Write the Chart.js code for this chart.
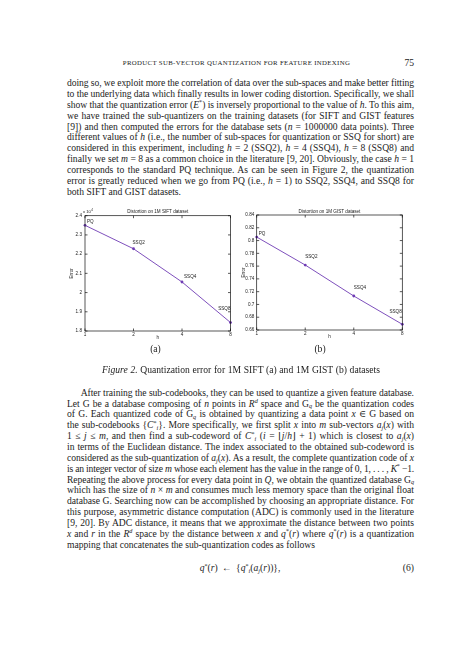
<!DOCTYPE html>
<html><head><meta charset="utf-8">
<script src="https://cdn.jsdelivr.net/npm/chart.js@4.4.1/dist/chart.umd.min.js"></script>
<style>
html,body{margin:0;padding:0;background:#fff;}
#page{position:relative;width:474px;height:670px;overflow:hidden;font-family:"Liberation Serif","DejaVu Serif",serif;color:#1c1c1c;}
.ln{position:absolute;white-space:nowrap;font-size:9.6px;line-height:12px;height:12px;}
sup,sub{font-size:6.2px;line-height:0;position:relative;vertical-align:baseline;}
sup{top:-3.5px;} sub{top:1.9px;}
canvas{position:absolute;}
</style></head>
<body><div id="page">
<canvas id="chartA" width="180" height="146" style="left:60px;top:200px;width:180px;height:146px"></canvas>
<canvas id="chartB" width="180" height="145" style="left:232px;top:200px;width:180px;height:145px"></canvas>
</div>
<script>
// ---- chart data ----
const hLabels = ['1', '2', '4', '8'];
const pointNames = ['PQ', 'SSQ2', 'SSQ4', 'SSQ8'];
const siftError = [2.35, 2.228, 2.055, 1.844];      // x 10^4
const gistError = [0.8055, 0.7617, 0.7132, 0.6689];
const siftYTicks = [1.8, 1.9, 2, 2.1, 2.2, 2.3, 2.4];
const gistYTicks = [0.66, 0.68, 0.7, 0.72, 0.74, 0.76, 0.78, 0.8, 0.82, 0.84];
const siftTitle = 'Distortion on 1M SIFT dataset';
const gistTitle = 'Distortion on 1M GIST dataset';

// ---- page text ----
const page = document.getElementById('page');
const L = 67, R = 414;
function addLine(html, left, center, opts) {
  const d = document.createElement('div');
  d.className = 'ln';
  d.innerHTML = html;
  d.style.left = left + 'px';
  d.style.top = (center - 6.3) + 'px';
  if (opts && opts.size) d.style.fontSize = opts.size + 'px';
  page.appendChild(d);
  return d;
}
function justify(d, target) {
  const w = d.getBoundingClientRect().width;
  const n = (d.textContent.match(/ /g) || []).length;
  if (w > target) {
    d.style.letterSpacing = ((target - w) / d.textContent.length) + 'px';
  } else if (n > 0) {
    d.style.wordSpacing = ((target - w) / n) + 'px';
  }
}
const CS = '<i>C</i><sup>*</sup><sub><i>i</i></sub>';
const para1 = [
  'doing so, we exploit more the correlation of data over the sub-spaces and make better fitting',
  'to the underlying data which finally results in lower coding distortion. Specifically, we shall',
  'show that the quantization error (<i>E</i><sup>*</sup>) is inversely proportional to the value of <i>h</i>. To this aim,',
  'we have trained the sub-quantizers on the training datasets (for SIFT and GIST features',
  '[9]) and then computed the errors for the database sets (<i>n</i> = 1000000 data points). Three',
  'different values of <i>h</i> (i.e., the number of sub-spaces for quantization or SSQ for short) are',
  'considered in this experiment, including <i>h</i> = 2 (SSQ2), <i>h</i> = 4 (SSQ4), <i>h</i> = 8 (SSQ8) and',
  'finally we set <i>m</i> = 8 as a common choice in the literature [9, 20]. Obviously, the case <i>h</i> = 1',
  'corresponds to the standard PQ technique. As can be seen in Figure 2, the quantization',
  'error is greatly reduced when we go from PQ (i.e., <i>h</i> = 1) to SSQ2, SSQ4, and SSQ8 for',
  'both SIFT and GIST datasets.'
];
para1.forEach((t, i) => {
  const d = addLine(t, L, 83.3 + i * 10.88);
  if (i < para1.length - 1) justify(d, R - L);
});
const para2 = [
  'After training the sub-codebooks, they can be used to quantize a given feature database.',
  'Let G be a database composing of <i>n</i> points in <i>R<sup>d</sup></i> space and G<sub><i>q</i></sub> be the quantization codes',
  'of G. Each quantized code of G<sub><i>q</i></sub> is obtained by quantizing a data point <i>x</i> ∈ G based on',
  'the sub-codebooks {' + CS + '}. More specifically, we first split <i>x</i> into <i>m</i> sub-vectors <i>a<sub>j</sub></i>(<i>x</i>) with',
  '1 ≤ <i>j</i> ≤ <i>m</i>, and then find a sub-codeword of ' + CS + ' (<i>i</i> = ⌊<i>j</i>/<i>h</i>⌋ + 1) which is closest to <i>a<sub>j</sub></i>(<i>x</i>)',
  'in terms of the Euclidean distance. The index associated to the obtained sub-codeword is',
  'considered as the sub-quantization of <i>a<sub>j</sub></i>(<i>x</i>). As a result, the complete quantization code of <i>x</i>',
  'is an integer vector of size <i>m</i> whose each element has the value in the range of 0, 1, . . . , <i>K</i><sup>*</sup> −1.',
  'Repeating the above process for every data point in <i>Q</i>, we obtain the quantized database G<sub><i>q</i></sub>',
  'which has the size of <i>n</i> × <i>m</i> and consumes much less memory space than the original float',
  'database G. Searching now can be accomplished by choosing an appropriate distance. For',
  'this purpose, asymmetric distance computation (ADC) is commonly used in the literature',
  '[9, 20]. By ADC distance, it means that we approximate the distance between two points',
  '<i>x</i> and <i>r</i> in the <i>R<sup>d</sup></i> space by the distance between <i>x</i> and <i>q</i><sup>*</sup>(<i>r</i>) where <i>q</i><sup>*</sup>(<i>r</i>) is a quantization',
  'mapping that concatenates the sub-quantization codes as follows'
];
para2.forEach((t, i) => {
  const left = i === 0 ? 80.7 : L;
  const d = addLine(t, left, 393 + i * 10.85);
  if (i < para2.length - 1) justify(d, R - left);
});
// header
const hd = addLine('PRODUCT SUB-VECTOR QUANTIZATION FOR FEATURE INDEXING', 0, 63.5, {size: 6.8});
{
  const w = hd.getBoundingClientRect().width;
  const n = hd.textContent.length - 1;
  hd.style.letterSpacing = ((227 - w) / n) + 'px';
  const w2 = hd.getBoundingClientRect().width;
  hd.style.left = (236.5 - w2 / 2) + 'px';
}
const pn = addLine('75', 0, 63.5);
pn.style.left = (R - pn.getBoundingClientRect().width) + 'px';
// sub-figure labels
[['(a)', 155.5], ['(b)', 320]].forEach(([t, cx]) => {
  const d = addLine(t, 0, 349.5);
  d.style.left = (cx - d.getBoundingClientRect().width / 2) + 'px';
});
// caption
const cap = addLine('<i>Figure 2.</i> Quantization error for 1M SIFT (a) and 1M GIST (b) datasets', 0, 370.5);
justify(cap, 278);
cap.style.left = (241 - cap.getBoundingClientRect().width / 2) + 'px';
// equation
const eq = addLine('<i>q</i><sup>*</sup>(<i>r</i>) ← {<i>q</i><sup>*</sup><sub><i>i</i></sub>(<i>a<sub>j</sub></i>(<i>r</i>))},', 0, 568.5);
eq.style.wordSpacing = '2px';
eq.style.left = (240 - eq.getBoundingClientRect().width / 2) + 'px';
const en = addLine('(6)', 0, 568.5);
en.style.left = (R - en.getBoundingClientRect().width) + 'px';

// ---- charts ----
const SANS = '"Liberation Sans", Arial, sans-serif';
const INK = '#222';
const LINE = '#6f3cb4';

const figurePlugin = {
  id: 'figure',
  afterDraw(chart, args, o) {
    const ctx = chart.ctx, a = chart.chartArea;
    const xs = chart.scales.x, ys = chart.scales.y;
    ctx.save();
    ctx.strokeStyle = '#111';
    ctx.lineWidth = 0.7;
    ctx.strokeRect(a.left, a.top, a.right - a.left, a.bottom - a.top);
    const tl = 2.5;
    ctx.beginPath();
    xs.ticks.forEach((t, i) => {
      const px = xs.getPixelForTick(i);
      ctx.moveTo(px, a.bottom); ctx.lineTo(px, a.bottom - tl);
      ctx.moveTo(px, a.top); ctx.lineTo(px, a.top + tl);
    });
    ys.ticks.forEach(t => {
      const py = ys.getPixelForValue(t.value);
      ctx.moveTo(a.left, py); ctx.lineTo(a.left + tl, py);
      ctx.moveTo(a.right, py); ctx.lineTo(a.right - tl, py);
    });
    ctx.stroke();
    // title
    ctx.fillStyle = INK;
    ctx.font = '4.6px ' + SANS;
    ctx.textAlign = 'center';
    ctx.textBaseline = 'middle';
    ctx.fillText(o.title, (a.left + a.right) / 2, a.top - 3.6);
    // exponent
    if (o.exponent) {
      ctx.textAlign = 'left';
      ctx.font = '4.2px ' + SANS;
      ctx.fillText('x 10', a.left - 2, a.top - 4);
      const w = ctx.measureText('x 10').width;
      ctx.font = '3px ' + SANS;
      ctx.fillText(o.exponent, a.left - 2 + w + 0.3, a.top - 6);
    }
    // point labels
    const meta = chart.getDatasetMeta(0);
    ctx.font = '4.6px ' + SANS;
    meta.data.forEach((p, i) => {
      const [dx, dy, al] = o.offsets[i];
      ctx.textAlign = al;
      ctx.fillText(o.names[i], p.x + dx, p.y + dy);
    });
    ctx.restore();
  }
};

function makeChart(id, values, yTicks, cfg) {
  const font = {family: SANS, size: 4.6};
  return new Chart(document.getElementById(id), {
    type: 'line',
    data: {
      labels: hLabels,
      datasets: [{
        data: values,
        borderColor: LINE,
        backgroundColor: LINE,
        borderWidth: 0.9,
        pointRadius: 1.4,
        pointBorderWidth: 0,
        pointBackgroundColor: LINE,
        tension: 0
      }]
    },
    options: {
      responsive: false,
      animation: false,
      devicePixelRatio: 1,
      layout: {padding: {top: cfg.top, right: cfg.right, left: 0, bottom: 0}},
      plugins: {
        legend: {display: false},
        tooltip: {enabled: false},
        title: {display: false},
        figure: {title: cfg.title, exponent: cfg.exponent, names: pointNames, offsets: cfg.offsets}
      },
      scales: {
        x: {
          type: 'category',
          offset: false,
          grid: {display: true, drawOnChartArea: false, drawTicks: false},
          border: {display: false},
          ticks: {font, color: INK, padding: 0.8, maxRotation: 0, autoSkip: false},
          title: {display: true, text: 'h', font, color: INK, padding: {top: 0, bottom: cfg.xTitlePad}},
          afterFit: s => { s.height = cfg.xHeight; }
        },
        y: {
          type: 'linear',
          min: yTicks[0],
          max: yTicks[yTicks.length - 1],
          afterBuildTicks: s => { s.ticks = yTicks.map(v => ({value: v})); },
          grid: {display: true, drawOnChartArea: false, drawTicks: false},
          border: {display: false},
          ticks: {font, color: INK, padding: cfg.yTickPad, callback: v => String(+(+v).toFixed(2))},
          title: {display: true, text: 'Error', font, color: INK, padding: {top: cfg.yTitlePad, bottom: 0}},
          afterFit: s => { s.width = cfg.yWidth; }
        }
      }
    },
    plugins: [figurePlugin]
  });
}

makeChart('chartA', siftError, siftYTicks, {
  title: siftTitle, exponent: '4',
  top: 15.7, right: 9.5, yWidth: 25, xHeight: 15, xTitlePad: 5.8, yTitlePad: 9, yTickPad: 3,
  offsets: [[2, -3.3, 'left'], [-1, -6.5, 'left'], [2, -5, 'left'], [0, -14, 'right']]
});
makeChart('chartB', gistError, gistYTicks, {
  title: gistTitle, exponent: null,
  top: 15, right: 9.7, yWidth: 24.7, xHeight: 15, xTitlePad: 5.3, yTitlePad: 9.3, yTickPad: 2.4,
  offsets: [[2, -3, 'left'], [0, -8, 'left'], [0, -8, 'left'], [-0.6, -13, 'right']]
});
</script>
</body></html>
